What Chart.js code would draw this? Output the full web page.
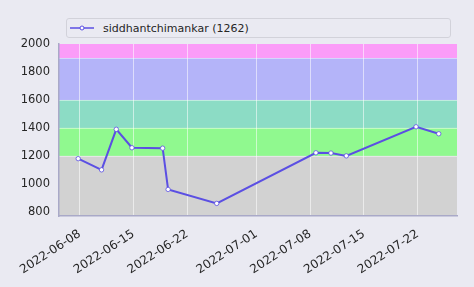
<!DOCTYPE html>
<html>
<head>
<meta charset="utf-8">
<script src="https://cdn.jsdelivr.net/npm/chart.js@4"></script>
<style>
  html, body { margin: 0; padding: 0; background: #eaeaf2; }
  #wrap { position: relative; width: 474px; height: 287px; }
  #legend {
    position: absolute; left: 66px; top: 18px; width: 383px; height: 18px;
    border: 1px solid #d2d2da; border-radius: 3px; background: #eaeaf2;
    font-family: "DejaVu Sans", sans-serif; font-size: 11px; color: #262626;
    display: flex; align-items: center;
  }
  #legend svg { margin-left: 3px; margin-right: 9px; }
</style>
</head>
<body>
<div id="wrap">
  <canvas id="ratingChart" width="474" height="287"></canvas>
  <div id="legend">
    <svg width="24" height="8"><line x1="0" y1="4" x2="24" y2="4" stroke="#5b4fe3" stroke-width="1.5"/><circle cx="12" cy="4" r="2" fill="#fff" stroke="#5b4fe3" stroke-width="1"/></svg>
    <span id="legendText"></span>
  </div>
</div>
<script>
/* ================= DATA ================= */
const handle = 'siddhantchimankar';
const currentRating = 1262;

const contestDates = [
  '2022-06-07T19:00Z', '2022-06-10T20:00Z', '2022-06-12T18:00Z', '2022-06-14T19:00Z',
  '2022-06-18T19:00Z', '2022-06-19T12:00Z', '2022-06-25T20:00Z', '2022-07-08T18:00Z',
  '2022-07-10T17:00Z', '2022-07-12T17:00Z', '2022-07-21T19:00Z', '2022-07-24T18:00Z'
];
const ratings = [1180, 1100, 1390, 1258, 1255, 960, 860, 1222, 1220, 1200, 1408, 1358];

const xTickDates = ['2022-06-08', '2022-06-15', '2022-06-22', '2022-07-01', '2022-07-08', '2022-07-15', '2022-07-22'];
const yTicks = [800, 1000, 1200, 1400, 1600, 1800, 2000];

// rank bands: [from, to]
const bandLow = [0, 1200, 1400, 1600, 1900];
const bandHigh = [1200, 1400, 1600, 1900, 2400];
const bandColors = ['#d2d2d2', '#90f98f', '#8cdcc5', '#b4b4f9', '#fb9cf8'];

/* ================= CHART ================= */
const toMs = s => Date.parse(s.length === 10 ? s + 'T00:00Z' : s);

document.getElementById('legendText').textContent = handle + ' (' + currentRating + ')';

const bandsPlugin = {
  id: 'bands',
  beforeDraw(chart) {
    const { ctx, chartArea: a, scales: { y } } = chart;
    ctx.save();
    ctx.beginPath();
    ctx.rect(a.left, a.top, a.right - a.left, a.bottom - a.top);
    ctx.clip();
    bandLow.forEach((lo, i) => {
      const top = y.getPixelForValue(bandHigh[i]);
      const bot = y.getPixelForValue(lo);
      ctx.fillStyle = bandColors[i];
      ctx.fillRect(a.left, top, a.right - a.left, bot - top);
    });
    ctx.strokeStyle = 'rgba(255,255,255,0.45)';
    ctx.lineWidth = 1;
    bandLow.slice(1).forEach(v => {
      const py = Math.round(y.getPixelForValue(v)) + 0.5;
      ctx.beginPath();
      ctx.moveTo(a.left, py);
      ctx.lineTo(a.right, py);
      ctx.stroke();
    });
    ctx.restore();
  }
};

const ratingChart = new Chart(
  document.getElementById('ratingChart'),
  {
    type: 'line',
    data: {
      datasets: [{
        label: handle,
        data: contestDates.map((d, i) => ({ x: toMs(d), y: ratings[i] })),
        borderColor: '#5b4fe3',
        borderWidth: 2,
        tension: 0,
        pointRadius: 2.2,
        pointBorderWidth: 0.8,
        pointBackgroundColor: '#ffffff',
        pointBorderColor: '#5b4fe3'
      }]
    },
    options: {
      responsive: false,
      animation: false,
      devicePixelRatio: 1,
      layout: { padding: { top: 44, right: 17, left: 0, bottom: 0 } },
      plugins: {
        legend: { display: false },
        tooltip: { enabled: false }
      },
      scales: {
        x: {
          type: 'linear',
          min: toMs('2022-06-05T07:00Z'),
          max: toMs('2022-07-27T03:00Z'),
          afterBuildTicks: s => { s.ticks = xTickDates.map(d => ({ value: toMs(d) })); },
          afterFit: s => { s.height = 71; },
          grid: { color: 'rgba(255,255,255,0.55)', lineWidth: 1, drawTicks: false },
          border: { display: true, color: '#a9a9c8', width: 1.5 },
          ticks: {
            autoSkip: false,
            minRotation: 33,
            maxRotation: 33,
            padding: 11,
            color: '#262626',
            font: { family: 'DejaVu Sans', size: 12 },
            callback: v => new Date(v).toISOString().slice(0, 10)
          }
        },
        y: {
          min: 770,
          max: 2000,
          afterBuildTicks: s => { s.ticks = yTicks.map(v => ({ value: v })); },
          afterFit: s => { s.width = 59; },
          grid: { display: false, drawTicks: false },
          border: { display: true, color: '#a9a9c8', width: 1.5 },
          ticks: {
            padding: 9,
            color: '#262626',
            font: { family: 'DejaVu Sans', size: 11.5 },
            callback: v => String(v)
          }
        }
      }
    },
    plugins: [bandsPlugin]
  }
);
</script>
</body>
</html>
